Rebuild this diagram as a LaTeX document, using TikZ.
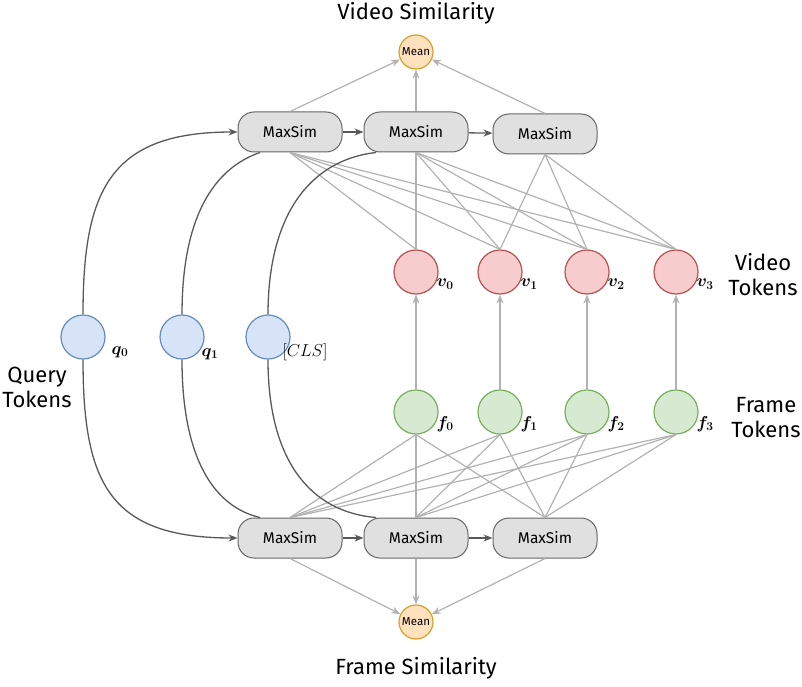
\documentclass[tikz,border=0pt]{standalone}
\usepackage{amsmath}
\usepackage{fontspec}
\setmainfont{Fira Sans}
\usetikzlibrary{arrows.meta}
\begin{document}
\begin{tikzpicture}[x=1pt,y=-1pt,
 ms/.style={draw=black!60,fill=black!12,line width=1pt,rounded corners=16pt,minimum width=104pt,minimum height=40pt,font=\fontsize{15.5}{16}\selectfont},
 mean/.style={circle,draw={rgb,255:red,215;green,160;blue,40},fill={rgb,255:red,255;green,225;blue,190},line width=1.2pt,minimum size=34pt,inner sep=0pt,font=\fontsize{11.5}{12}\selectfont},
 tok/.style={circle,line width=1.2pt,minimum size=44pt,inner sep=0pt},
 vt/.style={tok,draw={rgb,255:red,185;green,80;blue,80},fill={rgb,255:red,246;green,204;blue,204}},
 ft/.style={tok,draw={rgb,255:red,120;green,175;blue,90},fill={rgb,255:red,214;green,234;blue,210}},
 qt/.style={tok,draw={rgb,255:red,100;green,140;blue,190},fill={rgb,255:red,215;green,228;blue,248}},
 gl/.style={draw=black!30,line width=1.2pt},
 ga/.style={gl,-{Stealth[length=9pt,width=7pt]}},
 da/.style={draw=black!65,line width=1.3pt,-{Stealth[length=9pt,width=7pt]}},
 dc/.style={draw=black!65,line width=1.3pt},
 lbl/.style={font=\fontsize{17}{18}\selectfont},
 big/.style={font=\fontsize{22}{25}\selectfont,align=center}]
\useasboundingbox (0,0) rectangle (802,687);
\node[big] (vs) at (416,13) {Video Similarity};
\node[big] (fs) at (416,668) {Frame Similarity};
\node[mean] (mt) at (416,52) {Mean};
\node[mean] (mb) at (416,622) {Mean};
\node[ms] (t1) at (290,132) {MaxSim};
\node[ms] (t2) at (416,132) {MaxSim};
\node[ms] (t3) at (545,134) {MaxSim};
\node[ms] (b1) at (290,538) {MaxSim};
\node[ms] (b2) at (416,538) {MaxSim};
\node[ms] (b3) at (545,538) {MaxSim};
\foreach \x/\i in {416/0,500/1,587/2,676/3}{
 \node[vt] (v\i) at (\x,272) {};
 \node[lbl,anchor=west] (lv\i) at ([xshift=1pt,yshift=4pt]v\i.south east) {$\boldsymbol{v_{\i}}$};
 \node[ft] (f\i) at (\x,412) {};
 \node[lbl,anchor=west] (lf\i) at ([xshift=1pt,yshift=4pt]f\i.south east) {$\boldsymbol{f_{\i}}$};
 \draw[ga] (f\i) -- (v\i);
}
\node[qt] (q0) at (83,337) {};
\node[qt] (q1) at (182,337) {};
\node[qt] (q2) at (268,337) {};
\node[lbl] (lq0) at (120,352) {$\boldsymbol{q_0}$};
\node[lbl] (lq1) at (210,354) {$\boldsymbol{q_1}$};
\node[lbl] (lq2) at (305,352) {$[CLS]$};
\node[big] (qtk) at (37,387) {Query\\Tokens};
\node[big] (vtk) at (763,275) {Video\\Tokens};
\node[big] (ftk) at (766,418) {Frame\\Tokens};
\draw[ga] (t1.north) -- (mt);
\draw[ga] (t2.north) -- (mt);
\draw[ga] (t3.north) -- (mt);
\draw[ga] (b1.south) -- (mb);
\draw[ga] (b2.south) -- (mb);
\draw[ga] (b3.south) -- (mb);
\foreach \i in {0,1,2,3}{
 \draw[gl] (t1.south) -- (v\i.north);
 \draw[gl] (t2.south) -- (v\i.north);
 \draw[gl] (b1.north) -- (f\i.south);
 \draw[gl] (b2.north) -- (f\i.south);
 \draw[gl] (b3.north) -- (f\i.south);
}
\foreach \i in {1,2,3}{\draw[gl] (t3.south) -- (v\i.north);}
\draw[da] (t1) -- (t2);
\draw[da] (t2) -- (t3);
\draw[da] (b1) -- (b2);
\draw[da] (b2) -- (b3);
\draw[da] (q0.north) .. controls (83,190) and (110,132) .. (t1.west);
\draw[da] (q0.south) .. controls (83,484) and (110,538) .. (b1.west);
\draw[dc] (q1.north) .. controls (182,215) and (215,168) .. ([xshift=-30pt]t1.south);
\draw[dc] (q1.south) .. controls (182,460) and (215,507) .. ([xshift=-30pt]b1.north);
\draw[dc] (q2.north) .. controls (268,215) and (310,160) .. ([xshift=-40pt]t2.south);
\draw[dc] (q2.south) .. controls (268,460) and (310,512) .. ([xshift=-40pt]b2.north);
\end{tikzpicture}
\end{document}
